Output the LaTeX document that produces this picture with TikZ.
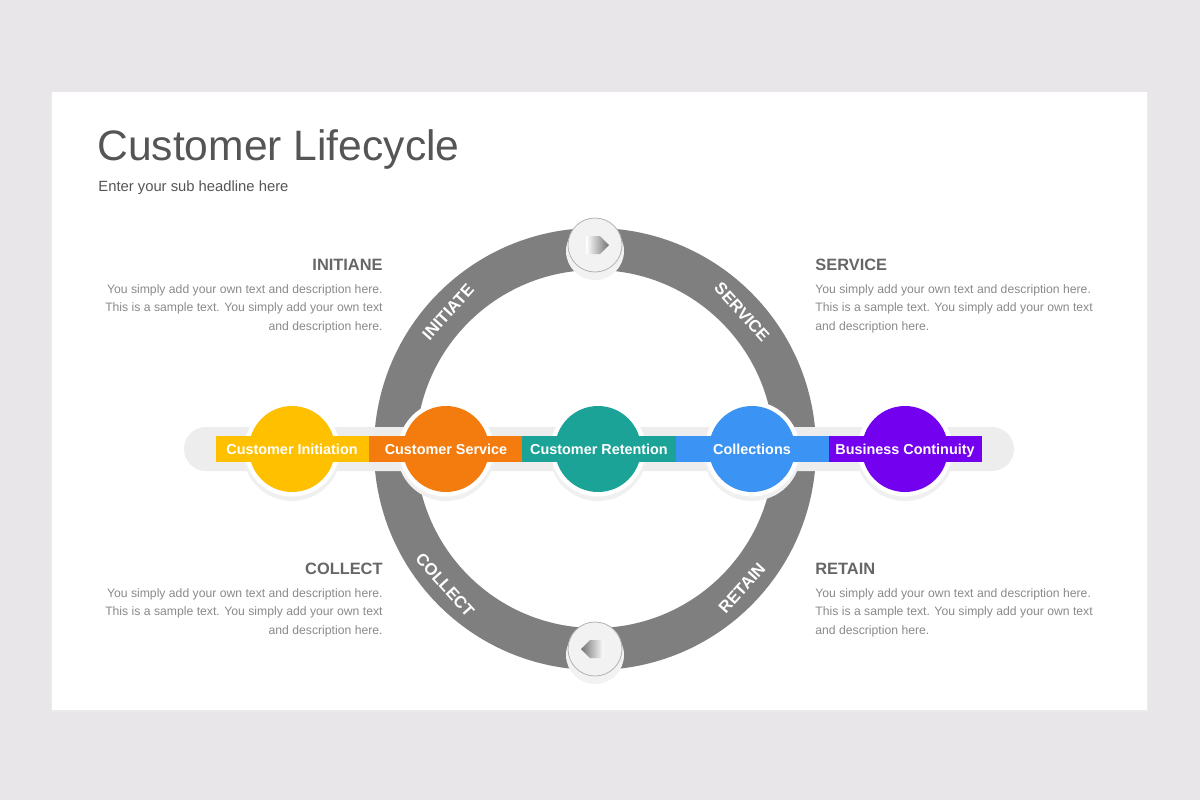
\documentclass[tikz,border=0pt]{standalone}
\usepackage{fontspec}
\setmainfont{Liberation Sans}
\definecolor{bg}{HTML}{E8E6E8}
\definecolor{ring}{HTML}{7F7F7F}
\definecolor{cy}{HTML}{FFC000}
\definecolor{co}{HTML}{F47C0E}
\definecolor{ct}{HTML}{1BA398}
\definecolor{cb}{HTML}{3B93F3}
\definecolor{cp}{HTML}{7300EE}
\definecolor{tt}{HTML}{555555}
\definecolor{hd}{HTML}{666666}
\definecolor{bd}{HTML}{8A8A8A}
\begin{document}
\begin{tikzpicture}[x=0.5pt,y=-0.5pt,
  strip/.style={fill=#1, draw=none},
  bub/.style={circle, fill=#1, draw=white, line width=2.5pt, minimum size=45pt, inner sep=0pt},
  lab/.style={text=white, font=\bfseries\fontsize{7.2}{8}\selectfont, inner sep=0pt, text height=5.3pt, text depth=1.5pt},
  ringtxt/.style={text=white, font=\bfseries\fontsize{8.3}{9}\selectfont, inner sep=0pt},
  head/.style={text=hd, font=\bfseries\fontsize{8.2}{9}\selectfont, inner sep=0pt},
  body/.style={text=bd, font=\fontsize{6.1}{9.2}\selectfont, inner sep=0pt},
  btn/.style={circle, fill=white!95!black, draw=black!30, line width=0.4pt, minimum size=27pt, inner sep=0pt}]
\fill[bg] (0,0) rectangle (1200,800);
\fill[black!8] (51,93) rectangle (1148,712);
\fill[white] (52,92) rectangle (1147,710);
\node[anchor=base west, text=tt, font=\fontsize{21.3}{24}\selectfont, inner sep=0pt] (title) at (97,160) {Customer Lifecycle};
\node[anchor=base west, text=tt, font=\fontsize{7.4}{9}\selectfont, inner sep=0pt] (sub) at (98,191) {Enter your sub headline here};
% ring
\draw[ring, line width=21pt] (595,449) circle[radius=200];
\node[ringtxt, rotate=48] (i) at (448,312) {INITIATE};
\node[ringtxt, rotate=-48] (s) at (742,312) {SERVICE};
\node[ringtxt, rotate=-48] (c) at (445,585) {COLLECT};
\node[ringtxt, rotate=48] (r) at (742,588) {RETAIN};
% buttons
\fill[black!5] (595,251) circle[radius=29];
\fill[black!5] (595,655) circle[radius=29];
\node[btn] (top) at (595,245) {};
\node[btn] (bot) at (595,649) {};
\shade[left color=white, right color=black!55] (586,236) -- (600,236) -- (609,245) -- (600,254) -- (586,254) -- cycle;
\shade[right color=white, left color=black!55] (604,640) -- (590,640) -- (581,649) -- (590,658) -- (604,658) -- cycle;
% bar
\fill[black!7, rounded corners=11pt] (184,427) rectangle (1014,471);
\foreach \x in {292,446,598,752,905} \fill[black!6] (\x,452) circle[radius=49];
\node[bub=cy] (b1) at (292,449) {};
\node[bub=co] (b2) at (446,449) {};
\node[bub=ct] (b3) at (598,449) {};
\node[bub=cb] (b4) at (752,449) {};
\node[bub=cp] (b5) at (905,449) {};
\fill[strip=cy] (216,436) rectangle (369,462);
\fill[strip=co] (369,436) rectangle (522,462);
\fill[strip=ct] (522,436) rectangle (676,462);
\fill[strip=cb] (676,436) rectangle (829,462);
\fill[strip=cp] (829,436) rectangle (982,462);
\fill[cy] (b1) circle[radius=43]; \fill[co] (b2) circle[radius=43]; \fill[ct] (b3) circle[radius=43]; \fill[cb] (b4) circle[radius=43]; \fill[cp] (b5) circle[radius=43];
\node[lab] (l1) at (292,451) {Customer Initiation};
\node[lab] (l2) at (446,451) {Customer Service};
\node[lab] (l3) at (599,451) {Customer Retention};
\node[lab] (l4) at (752,451) {Collections};
\node[lab] (l5) at (905,451) {Business Continuity};
% text blocks
\node[head, anchor=base east] (h1) at (383,270) {INITIANE};
\node[body, anchor=north east, align=right] (t1) at (383,284) {You simply add your own text and description here.\\ This is a sample text. You simply add your own text\\ and description here.};
\node[head, anchor=base west] (h2) at (815,270) {SERVICE};
\node[body, anchor=north west, align=left] (t2) at (815,284) {You simply add your own text and description here.\\ This is a sample text. You simply add your own text\\ and description here.};
\node[head, anchor=base east] (h3) at (383,574) {COLLECT};
\node[body, anchor=north east, align=right] (t3) at (383,588) {You simply add your own text and description here.\\ This is a sample text. You simply add your own text\\ and description here.};
\node[head, anchor=base west] (h4) at (815,574) {RETAIN};
\node[body, anchor=north west, align=left] (t4) at (815,588) {You simply add your own text and description here.\\ This is a sample text. You simply add your own text\\ and description here.};
\end{tikzpicture}
\end{document}
